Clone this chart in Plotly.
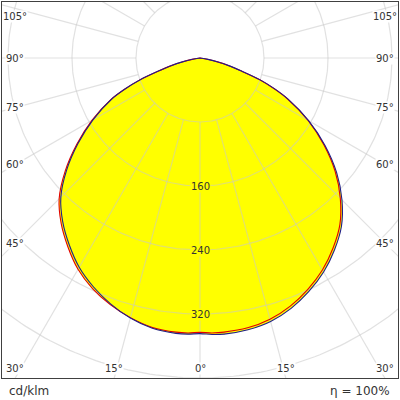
import numpy as np
import plotly.graph_objects as go

# luminous intensity distribution, cd/klm
gamma = [0, 2.5, 5, 10, 15, 20, 25, 30, 35, 40, 45, 50, 55, 60, 65, 67.5,
         70, 72.5, 75, 77.5, 80, 82.5, 85, 90]
c0 = [343, 344, 344, 342.5, 338, 330, 319, 306, 290, 272, 248, 220.5, 189,
      156, 120.5, 100.5, 79.5, 54.5, 37.5, 22.5, 9.5, 2, 0, 0]
c90 = [344.5, 346, 346.5, 345, 341, 333, 322, 309, 293, 275, 251, 223, 191,
       157, 121, 101, 80, 55, 38, 23, 10, 2, 0, 0]
c180 = [343, 344, 344, 342, 336, 328, 318, 305, 288, 270, 249, 220, 188,
        156, 123, 102, 80, 55, 38, 23, 10, 2, 0, 0]
c270 = [344.5, 345.5, 345.5, 343, 336.5, 327, 315.5, 302, 285, 267, 246,
        217.5, 186, 154.5, 122, 101.5, 79.5, 54.5, 37.5, 22.5, 9.5, 2, 0, 0]

grid_radii = [80, 160, 240, 320, 400, 480]
radius_labels = [160, 240, 320]
grid_angles = list(range(0, 360, 15))
angle_labels = [0, 15, 30, 45, 60, 75, 90, 105]

X_RANGE = [-247.5, 247.5]
Y_RANGE = [-400, 70]
PX = 1.25  # cd/klm per pixel


def to_xy(angles, values, side):
    a = np.radians(np.asarray(angles, dtype=float))
    v = np.asarray(values, dtype=float)
    return side * v * np.sin(a), -v * np.cos(a)


def plane_curve(left, right):
    xl, yl = to_xy(gamma, left, -1)
    xr, yr = to_xy(gamma, right, 1)
    x = np.concatenate([xl[::-1], xr[1:]])
    y = np.concatenate([yl[::-1], yr[1:]])
    return x, y


def label_pos(theta, side):
    a = np.radians(theta)
    dx, dy = side * np.sin(a), -np.cos(a)
    inset_x = X_RANGE[1] - 13 * PX
    inset_bottom = Y_RANGE[0] + 10 * PX
    inset_top = Y_RANGE[1] - 14 * PX
    if abs(dx) > 1e-9:
        y = dy * inset_x / abs(dx)
        if y >= inset_bottom:
            return side * inset_x, min(y, inset_top)
    t = -Y_RANGE[0] / -dy
    return dx * t, inset_bottom


red_x, red_y = plane_curve(c180, c0)
blue_x, blue_y = plane_curve(c270, c90)

fig = go.Figure()

for cx, cy in [(red_x, red_y), (blue_x, blue_y)]:
    fig.add_trace(go.Scatter(x=cx, y=cy, fill='toself', fillcolor='#ffff00',
                             line=dict(width=0, shape='spline', smoothing=0.9),
                             mode='lines', hoverinfo='skip'))

grid_color = 'rgba(200,200,200,0.55)'
t = np.linspace(0, 2 * np.pi, 361)
for r in grid_radii:
    fig.add_trace(go.Scatter(x=r * np.cos(t), y=r * np.sin(t), mode='lines',
                             line=dict(color=grid_color, width=1.2),
                             hoverinfo='skip'))
for ang in grid_angles:
    gx, gy = to_xy([ang, ang], [grid_radii[0], 700], 1)
    fig.add_trace(go.Scatter(x=gx, y=gy, mode='lines',
                             line=dict(color=grid_color, width=1.2),
                             hoverinfo='skip'))

fig.add_trace(go.Scatter(x=red_x, y=red_y, mode='lines',
                         line=dict(color='#e00000', width=1.1, shape='spline', smoothing=0.9),
                         hoverinfo='skip'))
fig.add_trace(go.Scatter(x=blue_x, y=blue_y, mode='lines',
                         line=dict(color='#1f1f8a', width=1.1, shape='spline', smoothing=0.9),
                         hoverinfo='skip'))

font = dict(family='DejaVu Sans', size=10, color='#333333')
annotations = []
for r in radius_labels:
    annotations.append(dict(x=0, y=-r, text=str(r), showarrow=False, font=font,
                            bgcolor='#ffff00', borderpad=0))
for ang in angle_labels:
    for side in ([1] if ang == 0 else [-1, 1]):
        lx, ly = label_pos(ang, side)
        annotations.append(dict(x=lx, y=ly, text=f'{ang}°', showarrow=False,
                                font=font, bgcolor='white', borderpad=0))

annotations.append(dict(x=0.012, y=-0.035, xref='paper', yref='paper', xanchor='left',
                        yanchor='middle', text='cd/klm', showarrow=False,
                        font=dict(family='DejaVu Sans', size=12, color='#333333')))
annotations.append(dict(x=0.985, y=-0.035, xref='paper', yref='paper', xanchor='right',
                        yanchor='middle', text='η = 100%', showarrow=False,
                        font=dict(family='DejaVu Sans', size=12, color='#333333')))

axis = dict(showgrid=False, zeroline=False, showticklabels=False, ticks='',
            showline=True, mirror=True, linecolor='#404040', linewidth=1.2)
fig.update_layout(
    width=400, height=400,
    margin=dict(l=2, r=2, t=2, b=22),
    paper_bgcolor='white', plot_bgcolor='white',
    showlegend=False,
    xaxis=dict(axis, range=X_RANGE),
    yaxis=dict(axis, range=Y_RANGE),
    annotations=annotations,
)

# the page body has a default margin that would push the figure off the window
fig.write_html("out.html", config={'displayModeBar': False},
               post_script="document.body.style.margin='0';")
